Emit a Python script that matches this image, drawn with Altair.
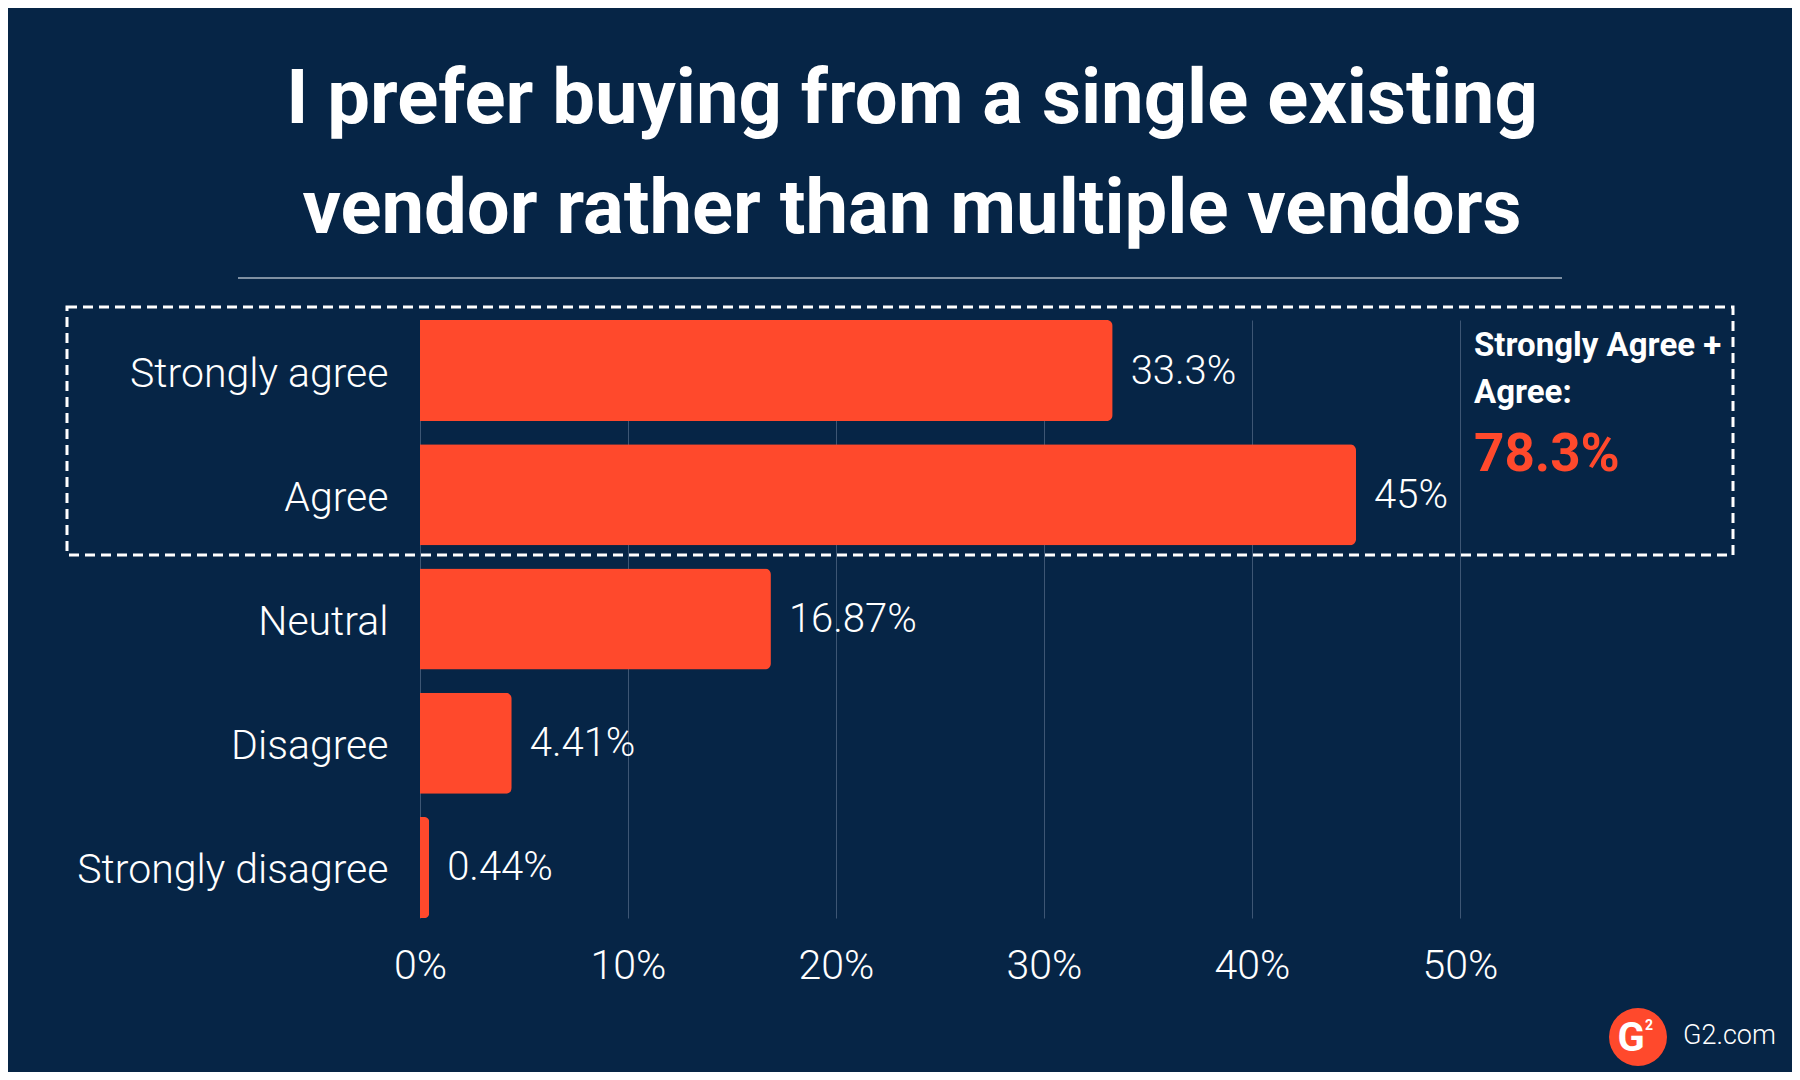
import altair as alt
import pandas as pd

responses = ["Strongly agree", "Agree", "Neutral", "Disagree", "Strongly disagree"]
shares = [33.3, 45.0, 16.87, 4.41, 0.44]
share_labels = ["33.3%", "45%", "16.87%", "4.41%", "0.44%"]
x_ticks = [0, 10, 20, 30, 40, 50]

title_lines = ["I prefer buying from a single existing", "vendor rather than multiple vendors"]
callout_lines = ["Strongly Agree +", "Agree:"]
callout_total = "78.3%"
brand = "G2.com"

BG = "#062546"
RED = "#FF492C"
FONT = "Roboto"

df = pd.DataFrame({"response": responses, "share": shares, "label": share_labels})
one = pd.DataFrame({"k": [0]})

y_enc = alt.Y("response:N", sort=responses,
              scale=alt.Scale(paddingInner=0.187, paddingOuter=0),
              axis=alt.Axis(title=None, domain=False, ticks=False, labelPadding=32,
                            labelFontSize=41, labelFontWeight=300, labelColor="white",
                            labelFont=FONT, labelLimit=500, labelOffset=4))
x_enc = alt.X("share:Q", scale=alt.Scale(domain=[0, 50], nice=False),
              axis=alt.Axis(title=None, values=x_ticks, domain=False, ticks=False,
                            grid=True, gridColor="#3d5674", gridWidth=1,
                            labelPadding=28, labelFontSize=41, labelFontWeight=300,
                            labelColor="white", labelFont=FONT, labelFlush=False,
                            labelOverlap=False, labelExpr="datum.label + '%'"))

bars = alt.Chart(df).mark_bar(color=RED, cornerRadiusEnd=6).encode(
    y=y_enc, x=x_enc, tooltip=["response", "share"]
)
values = alt.Chart(df).mark_text(align="left", baseline="middle", dx=18, dy=1,
                                 font=FONT, fontSize=40, fontWeight=300,
                                 color="white").encode(
    y=alt.Y("response:N", sort=responses), x="share:Q", text="label:N"
)

# title block
title1 = alt.Chart(one).mark_text(text=title_lines[0], font=FONT, fontSize=76,
                                  fontWeight="bold", color="white", align="center",
                                  baseline="alphabetic").encode(
    x=alt.value(492), y=alt.value(-197))
title2 = alt.Chart(one).mark_text(text=title_lines[1], font=FONT, fontSize=76,
                                  fontWeight="bold", color="white", align="center",
                                  baseline="alphabetic").encode(
    x=alt.value(492), y=alt.value(-87))
rule = alt.Chart(one).mark_rule(color="#a9b4c2", strokeWidth=1.5).encode(
    x=alt.value(-182), x2=alt.value(1142), y=alt.value(-42))

# dashed highlight box round the two "agree" rows
box = alt.Chart(one).mark_rect(fillOpacity=0, stroke="white", strokeWidth=3,
                               strokeDash=[10, 6]).encode(
    x=alt.value(-353), x2=alt.value(1313), y=alt.value(-13), y2=alt.value(235))

callout1 = alt.Chart(one).mark_text(text=callout_lines[0], font=FONT, fontSize=33,
                                    fontWeight="bold", color="white", align="left",
                                    baseline="alphabetic").encode(
    x=alt.value(1054), y=alt.value(36))
callout2 = alt.Chart(one).mark_text(text=callout_lines[1], font=FONT, fontSize=33,
                                    fontWeight="bold", color="white", align="left",
                                    baseline="alphabetic").encode(
    x=alt.value(1054), y=alt.value(83))
callout3 = alt.Chart(one).mark_text(text=callout_total, font=FONT, fontSize=53,
                                    fontWeight="bold", color=RED, align="left",
                                    baseline="alphabetic").encode(
    x=alt.value(1054), y=alt.value(151))

# G2 logo
logo = alt.Chart(one).mark_point(shape="circle", filled=True, opacity=1, size=3360,
                                 color=RED).encode(x=alt.value(1218), y=alt.value(717))
logo_g = alt.Chart(one).mark_text(text="G", font=FONT, fontSize=40, fontWeight="bold",
                                  color="white", align="center",
                                  baseline="middle").encode(
    x=alt.value(1211), y=alt.value(719))
logo_2 = alt.Chart(one).mark_text(text="2", font=FONT, fontSize=14, fontWeight="bold",
                                  color="white", align="center",
                                  baseline="middle").encode(
    x=alt.value(1229), y=alt.value(706))
logo_txt = alt.Chart(one).mark_text(text=brand, font=FONT, fontSize=27, fontWeight=300,
                                    color="white", align="left",
                                    baseline="alphabetic").encode(
    x=alt.value(1263), y=alt.value(724))

chart = alt.layer(
    bars, values, title1, title2, rule, box, callout1, callout2, callout3,
    logo, logo_g, logo_2, logo_txt
).properties(
    width=1040, height=598, background=BG,
    autosize=alt.AutoSizeParams(type="none"),
    padding={"left": 412, "top": 312, "right": 332, "bottom": 154},
).configure_view(stroke=None)

chart.save("out.html", embed_options={"renderer": "svg", "actions": False})
